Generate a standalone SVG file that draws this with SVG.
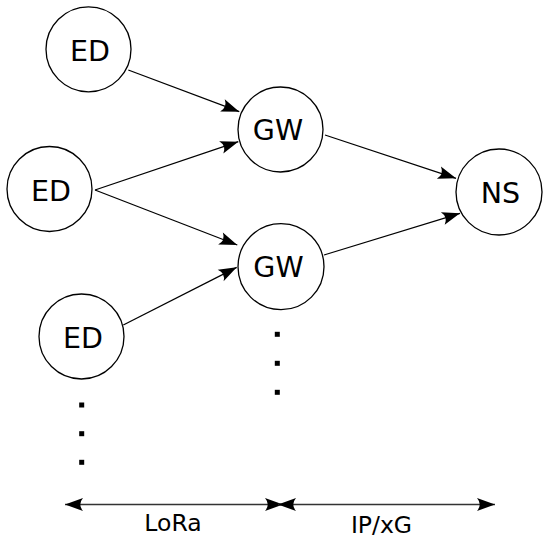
<svg xmlns="http://www.w3.org/2000/svg" width="550" height="543" viewBox="0 0 550 543">
<defs>
<marker id="ah" markerUnits="userSpaceOnUse" markerWidth="24" markerHeight="16" viewBox="-20 -8 24 16" refX="0" refY="0" orient="auto-start-reverse" overflow="visible">
<path d="M0,0 L-18,-6.5 Q-12.5,0 -18,6.5 Z" fill="#000"/>
</marker>
<style>
.node circle{fill:#fff;stroke:#000;stroke-width:1.3}
.node text{font-family:"DejaVu Sans","Liberation Sans",sans-serif;font-size:28.5px;text-anchor:middle;fill:#000}
.conn line{stroke:#000;stroke-width:1.3;marker-end:url(#ah)}
.span line{stroke:#333;stroke-width:1.6;marker-start:url(#ah);marker-end:url(#ah)}
.lbl{font-family:"DejaVu Sans","Liberation Sans",sans-serif;font-size:23.5px;text-anchor:middle;fill:#000}
.dot{fill:#000}
</style>
</defs>
<rect width="550" height="543" fill="#fff"/>
<g id="connectors" class="conn">
<line x1="128.3" y1="70" x2="239.3" y2="111.7"/>
<line x1="95" y1="190" x2="238.3" y2="141.7"/>
<line x1="95" y1="190" x2="237.3" y2="245"/>
<line x1="123.3" y1="325" x2="236.7" y2="267.3"/>
<line x1="325" y1="135" x2="456" y2="178.3"/>
<line x1="324" y1="255" x2="460" y2="213.3"/>
</g>
<g id="ed1" class="node"><circle cx="88.5" cy="49.3" r="42.5"/><text x="90" y="61">ED</text></g>
<g id="ed2" class="node"><circle cx="49.5" cy="189" r="42.5"/><text x="51" y="200.5">ED</text></g>
<g id="ed3" class="node"><circle cx="81.5" cy="336.5" r="42.5"/><text x="83" y="348">ED</text></g>
<g id="gw1" class="node"><circle cx="280.5" cy="129.5" r="42.5"/><text x="278" y="140">GW</text></g>
<g id="gw2" class="node"><circle cx="281" cy="266.7" r="43"/><text x="278.5" y="277">GW</text></g>
<g id="ns" class="node"><circle cx="499" cy="192" r="43"/><text x="500.5" y="203">NS</text></g>
<g id="ellipsis">
<rect class="dot" x="79.2" y="402.5" width="5" height="5"/>
<rect class="dot" x="79.2" y="431.2" width="5" height="5"/>
<rect class="dot" x="79.2" y="459.8" width="5" height="5"/>
<rect class="dot" x="274.8" y="331.8" width="5" height="5"/>
<rect class="dot" x="274.8" y="360.8" width="5" height="5"/>
<rect class="dot" x="274.8" y="389.8" width="5" height="5"/>
</g>
<g id="spans" class="span">
<line x1="65" y1="504.5" x2="283" y2="504.5"/>
<line x1="278" y1="504.5" x2="495" y2="504.5"/>
</g>
<text class="lbl" x="173" y="531">LoRa</text>
<text class="lbl" x="381.5" y="533">IP/xG</text>
</svg>
